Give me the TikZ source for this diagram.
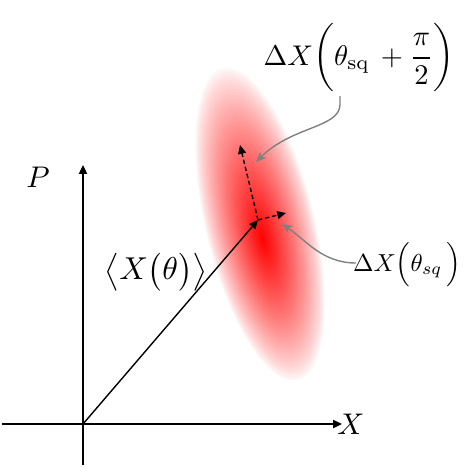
\documentclass[tikz,border=0pt]{standalone}
\usepackage{amsmath}
\usetikzlibrary{arrows.meta}
\begin{document}
\begin{tikzpicture}[x=0.02cm,y=-0.02cm,
  axis/.style={line width=1.1pt,-{Triangle[length=5pt,width=4.5pt]}},
  vec/.style={line width=0.8pt,-{Triangle[length=5pt,width=4.5pt]}},
  dq/.style={line width=0.8pt,dash pattern=on 2.5pt off 1.6pt,-{Triangle[length=5pt,width=4.5pt]}},
  pointer/.style={gray,line width=0.8pt,-{Stealth[length=6pt,width=5pt]}},
  lbl/.style={inner sep=0pt,text=black}]
\useasboundingbox (0,0) rectangle (474,474);
% noise ellipse
\foreach \i in {0,...,59}{
  \pgfmathsetmacro\r{1-\i/60}
  \pgfmathsetmacro\p{100*(1-\r)^0.8}
  \pgfmathsetmacro\cx{260+3*(1-\r)}
  \pgfmathsetmacro\cy{224+16*(1-\r)}
  \fill[red!\p!white,rotate around={13.5:(\cx,\cy)}]
    (\cx,\cy) ellipse [x radius=\r*1.1cm, y radius=\r*3.25cm];
}
% coordinates
\coordinate (O) at (83,424);
\coordinate (xl) at (2,424);
\coordinate (xr) at (342,424);
\coordinate (yb) at (83,465);
\coordinate (yt) at (83,165);
\coordinate (J) at (258,220);
\coordinate (du) at (240,145);
\coordinate (dr) at (286,213);
% axes
\draw[line width=1.1pt] (xl) -- (O);
\draw[axis] (O) -- (xr);
\draw[line width=1.1pt] (yb) -- (O);
\draw[axis] (O) -- (yt);
\node[lbl,scale=1.7] (Xl) at (351,424) {$X$};
\node[lbl,scale=1.7] (Pl) at (38,177) {$P$};
% mean vector
\draw[vec] (O) -- (J);
\draw[dq] (J) -- (du);
\draw[dq] (J) -- (dr);
% labels
\node[lbl,scale=1.8] (mean) at (156,272) {$\bigl\langle X\bigl(\theta\bigr)\bigr\rangle$};
\node[lbl,scale=1.62] (top) at (359,58) {$\Delta X\biggl(\theta_{\mathrm{sq}}\,+\dfrac{\pi}{2}\biggr)$};
\node[lbl,scale=1.4] (bot) at (407,265) {$\Delta X\Bigl(\theta_{sq}\,\Bigr)$};
% pointers
\coordinate (ts) at (340,96);
\coordinate (te) at (256,162);
\coordinate (bs) at (356,263);
\coordinate (be) at (282,224);
\draw[pointer] (ts) -- (340,105) .. controls (339,128) and (292,126) .. (te);
\draw[pointer] (bs) .. controls (322,263) and (306,240) .. (be);
\end{tikzpicture}
\end{document}
